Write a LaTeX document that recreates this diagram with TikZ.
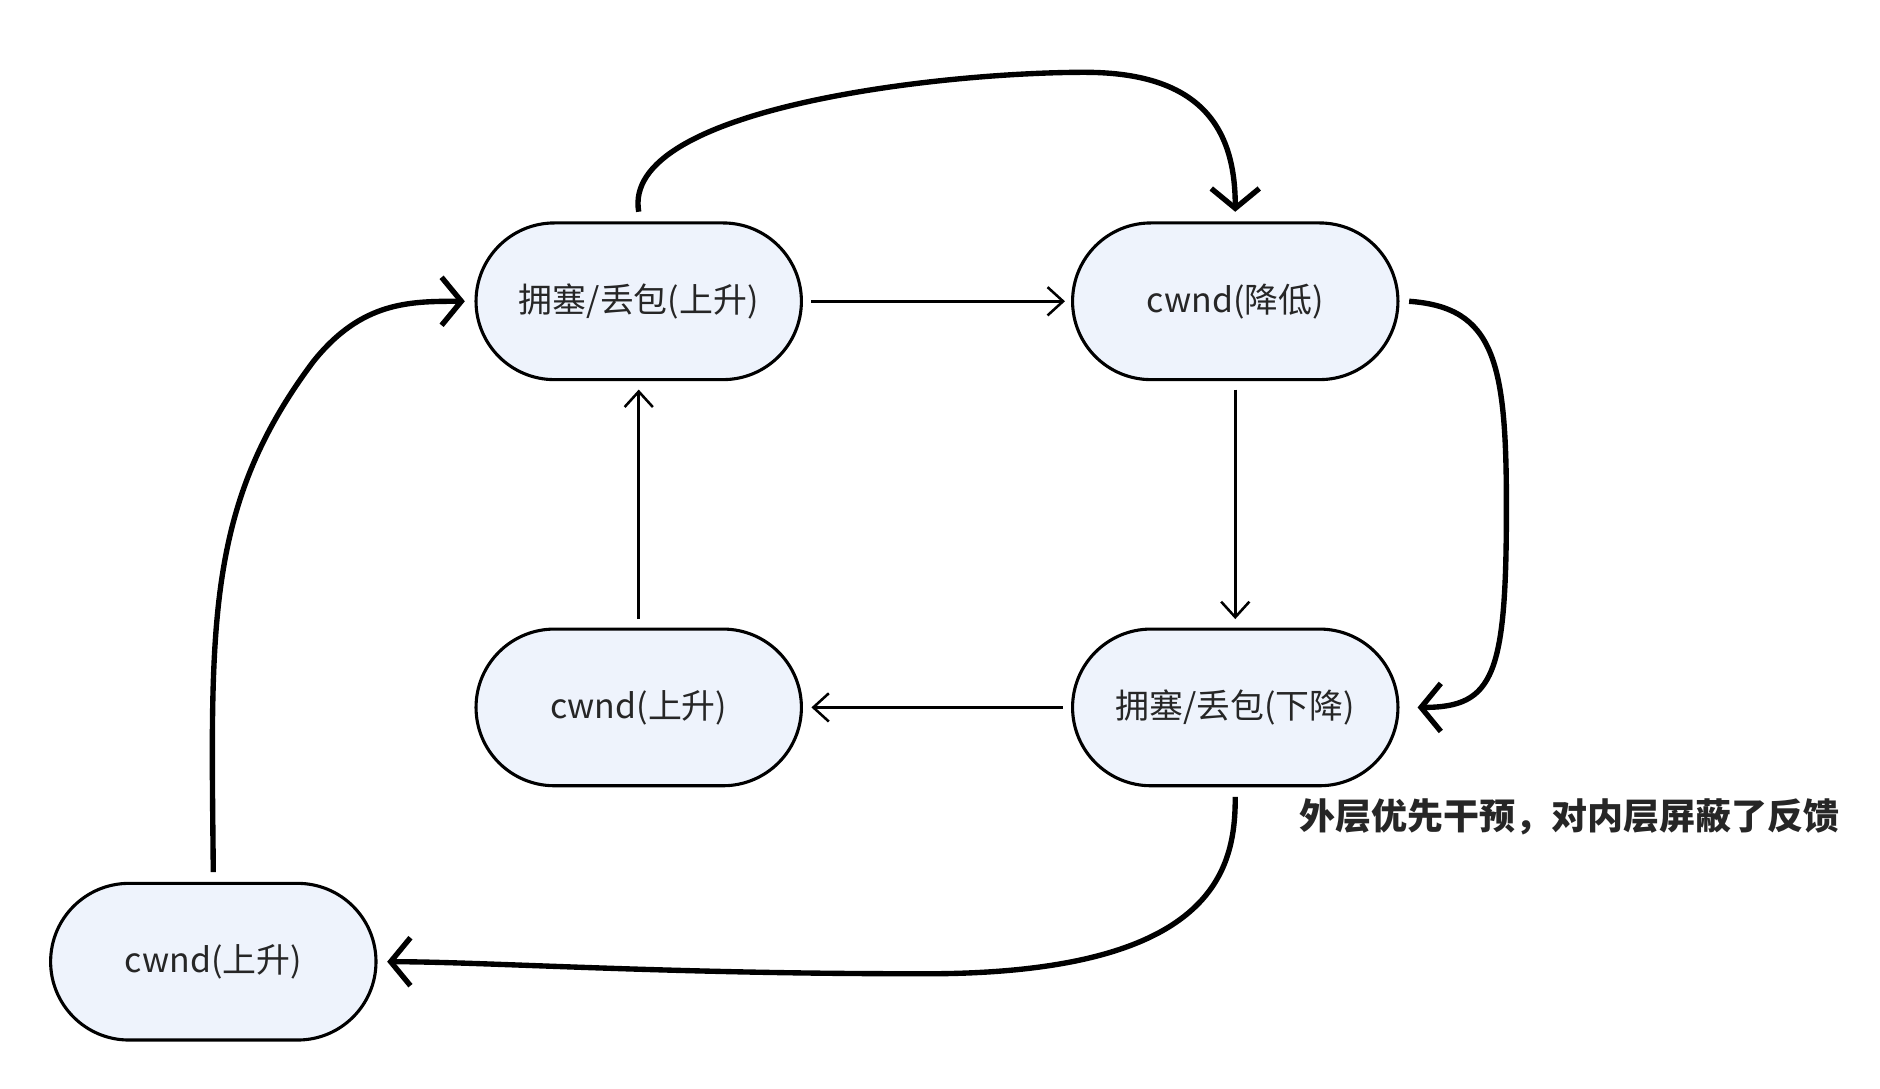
\documentclass[tikz,border=0pt]{standalone}
\usepackage{fontspec}
\setmainfont{Noto Sans CJK SC}
\usetikzlibrary{arrows.meta}
\definecolor{nodefill}{HTML}{EEF3FC}
\begin{document}
\begin{tikzpicture}[x=0.03cm,y=-0.03cm,
  st/.style={draw=black,line width=2.2pt,fill=nodefill,rounded corners=65*0.03cm,minimum width=270*0.03cm,minimum height=130*0.03cm,inner sep=0pt,font=\fontsize{24}{28}\selectfont,text=black!85},
  thin/.style={line width=1.8pt,-{Straight Barb[length=11pt,width=20pt,line width=1.8pt]}},
  thick/.style={line width=3.8pt,-{Straight Barb[length=14pt,width=34pt,line width=3.8pt]}}]
\useasboundingbox (0,0) rectangle (1560,903);
\node[st] (A) at (530,250) {拥塞/丢包(上升)};
\node[st] (B) at (1025,250) {cwnd(降低)};
\node[st] (C) at (530,587) {cwnd(上升)};
\node[st] (D) at (1025,587) {拥塞/丢包(下降)};
\node[st] (E) at (177,798) {cwnd(上升)};
\draw[thin] ([xshift=7*0.03cm]A.east) -- ([xshift=-5*0.03cm]B.west);
\draw[thin] ([yshift=-7*0.03cm]B.south) -- ([yshift=7*0.03cm]D.north);
\draw[thin] ([xshift=-7*0.03cm]D.west) -- ([xshift=7*0.03cm]C.east);
\draw[thin] ([yshift=7*0.03cm]C.north) -- ([yshift=-7*0.03cm]A.south);
\draw[thick] ([yshift=8*0.03cm]A.north) .. controls (515,90) and (780,60) .. (900,60) .. controls (1000,60) and (1025,110) .. ([yshift=8*0.03cm]B.north);
\draw[thick] ([xshift=8*0.03cm]B.east) .. controls (1240,255) and (1250,300) .. (1250,420) .. controls (1250,560) and (1240,587) .. ([xshift=15*0.03cm]D.east);
\draw[thick] ([yshift=-8*0.03cm]D.south) .. controls (1025,720) and (1010,810) .. (760,808) .. controls (550,808) and (400,798) .. ([xshift=8*0.03cm]E.east);
\draw[thick] ([yshift=8*0.03cm]E.north) .. controls (175,520) and (170,420) .. (260,300) .. controls (300,250) and (340,250) .. ([xshift=-8*0.03cm]A.west);
\node[font=\bfseries\fontsize{25.5}{30}\selectfont,text=black!85] (L) at (1302,678) {外层优先干预，对内层屏蔽了反馈};
\end{tikzpicture}
\end{document}
